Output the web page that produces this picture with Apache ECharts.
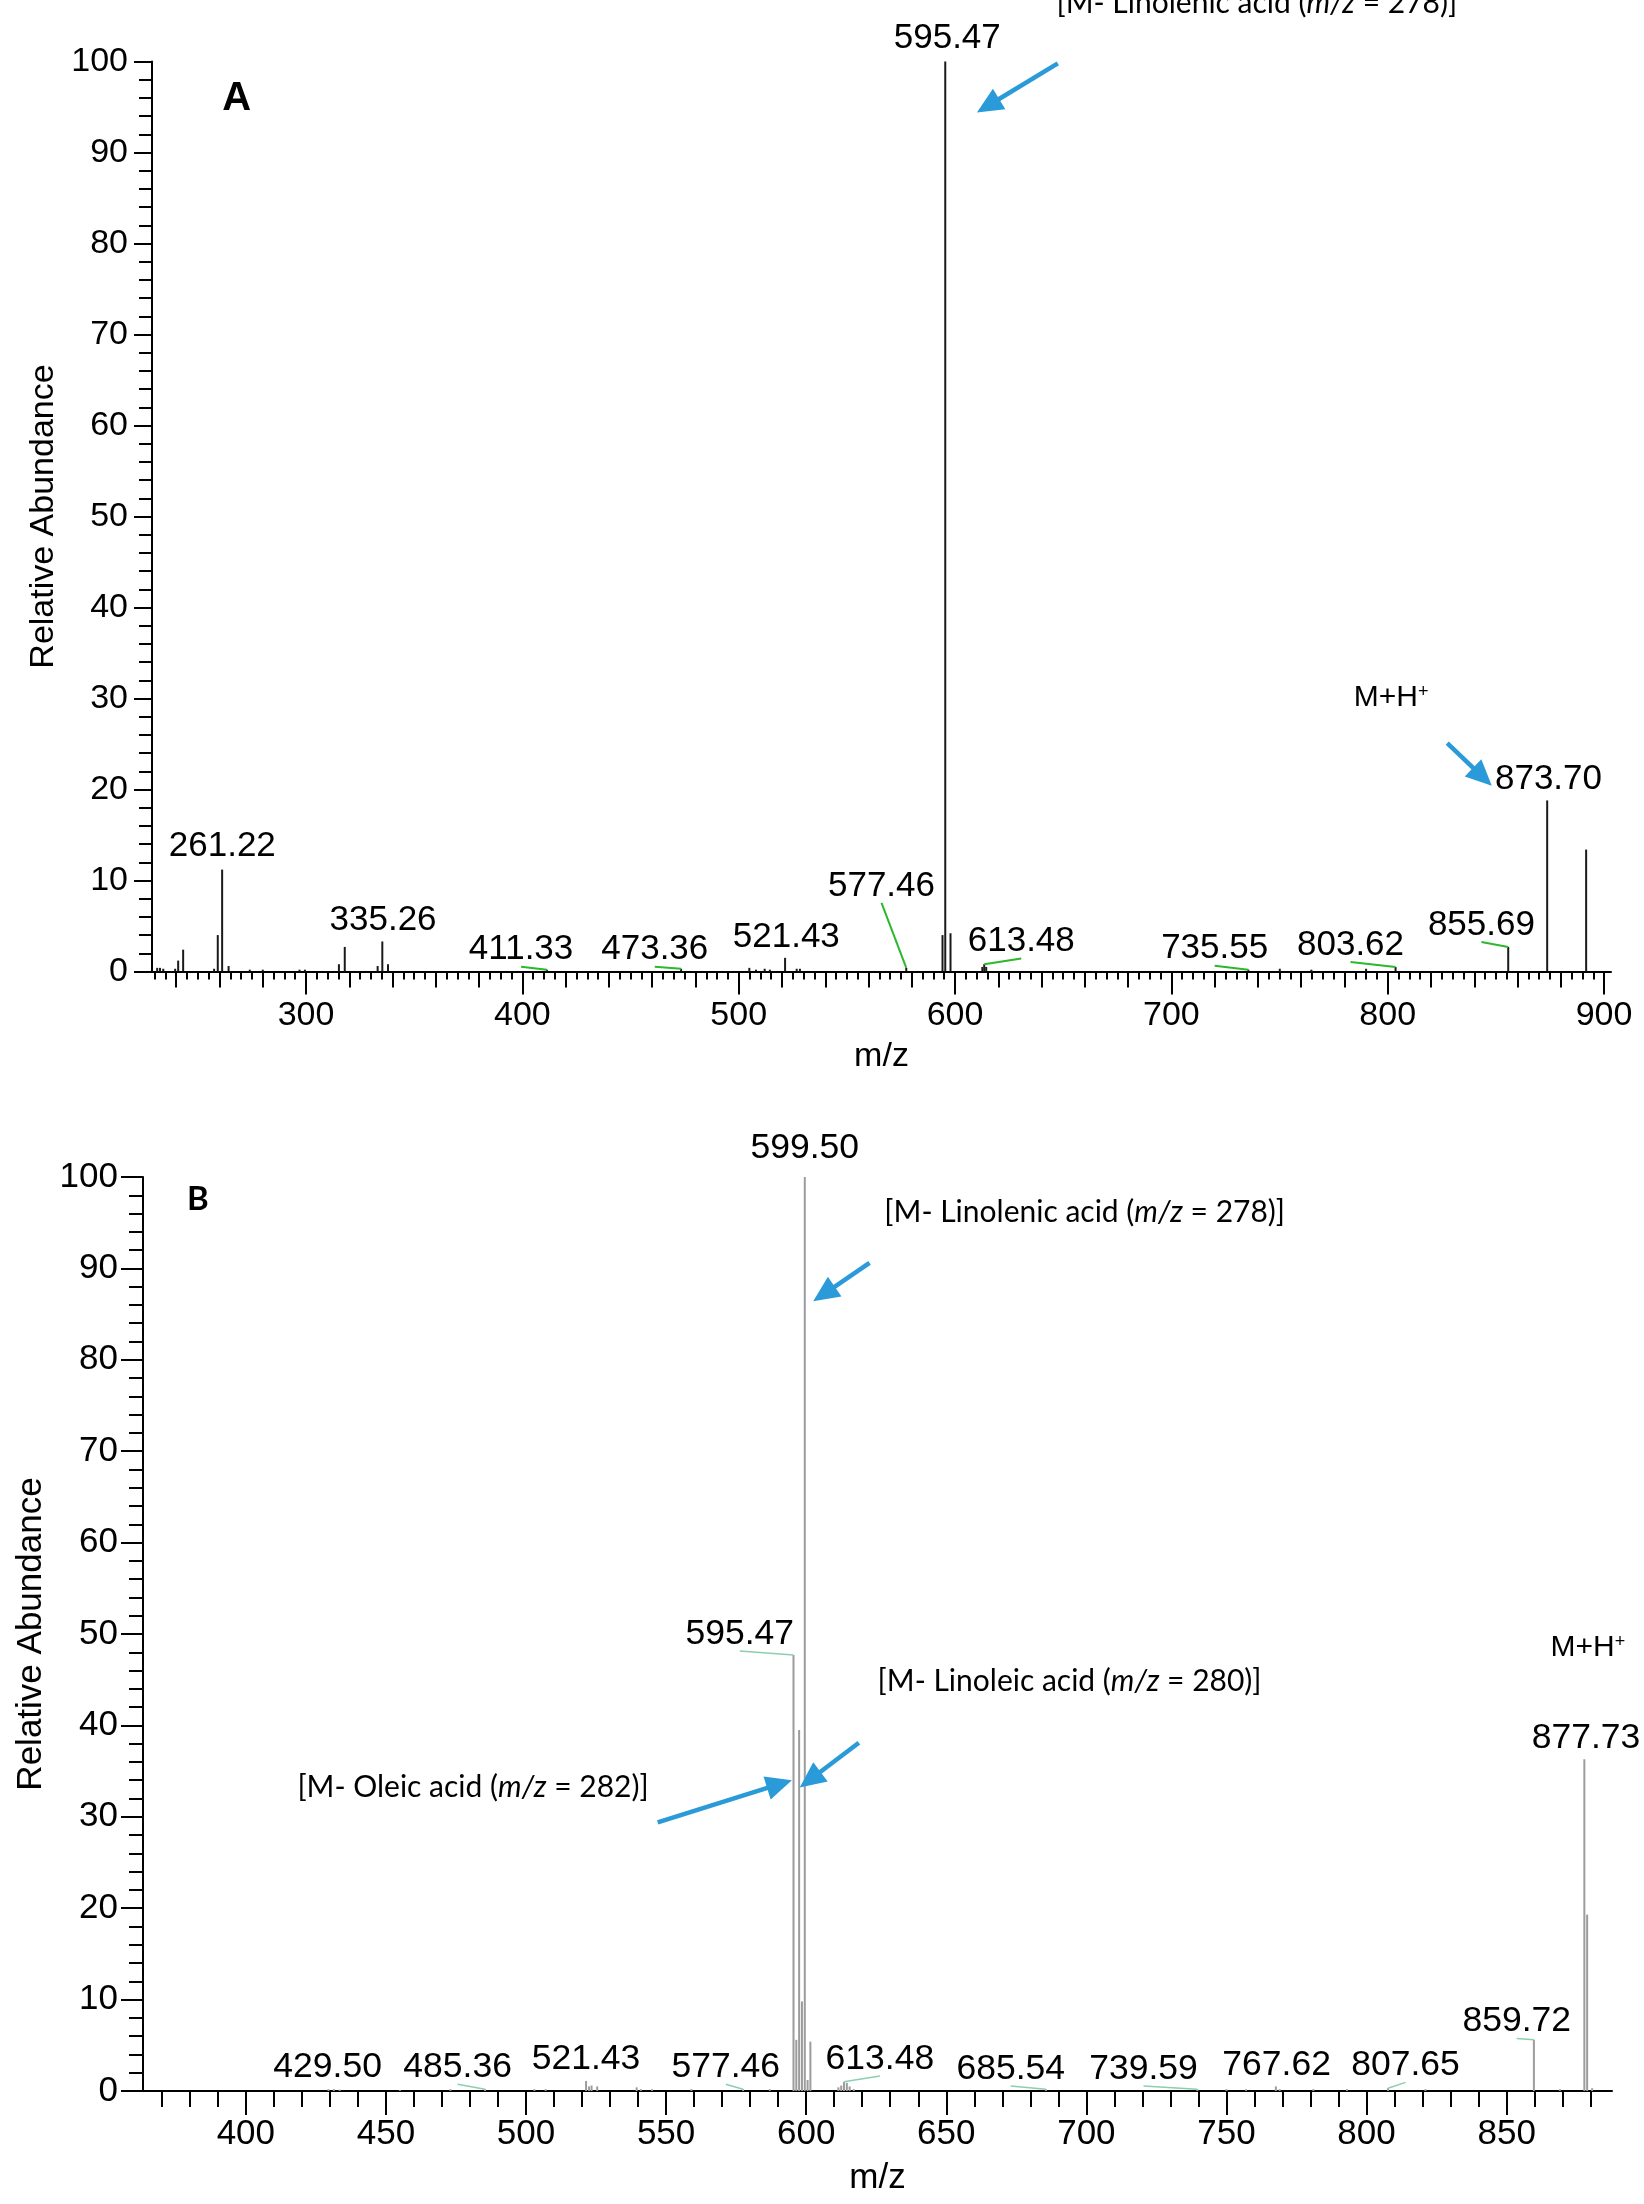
<!DOCTYPE html>
<html>
<head>
<meta charset="utf-8">
<title>MS/MS spectra A and B</title>
<script src="https://cdn.jsdelivr.net/npm/echarts@6/dist/echarts.min.js"></script>
<style>
  html, body { margin: 0; padding: 0; background: #fff; }
  #chart { width: 1644px; height: 2204px; }
</style>
</head>
<body>
<div id="chart"></div>
<script>
// ---------- panel A : sticks (m/z , relative abundance %) ----------
const mzA = [231.2, 232.5, 234.0, 239.5, 240.9, 243.2, 257.5, 259.2, 261.22, 264.2, 274.0, 280.0, 297.0, 299.5,
  315.2, 317.9, 333.1, 335.26, 337.9, 411.33, 473.36, 504.9, 508.0, 512.0, 514.4, 521.43, 526.8, 528.3,
  577.46, 594.2, 595.47, 597.9, 612.6, 613.48, 614.4, 735.55, 750.1, 764.7, 790.0, 803.62, 855.69, 873.70, 891.71]
const abA = [0.4, 0.4, 0.3, 0.3, 1.2, 2.4, 0.3, 4.0, 11.2, 0.6, 0.2, 0.2, 0.2, 0.2,
  0.8, 2.7, 0.6, 3.3, 0.8, 0.2, 0.3, 0.4, 0.2, 0.3, 0.2, 1.5, 0.3, 0.3,
  0.4, 4.0, 100, 4.2, 0.5, 0.8, 0.5, 0.2, 0.3, 0.2, 0.3, 0.5, 2.7, 18.8, 13.4]

// peak labels A : text, peak m/z, peak %, label m/z, label %, leader line (1/0)
const labelTextA = ['595.47', '261.22', '335.26', '411.33', '473.36', '521.43', '577.46', '613.48', '735.55', '803.62', '855.69', '873.70']
const labelPeakMzA = [595.47, 261.22, 335.26, 411.33, 473.36, 521.43, 577.46, 613.48, 735.55, 803.62, 855.69, 873.70]
const labelPeakAbA = [100, 11.2, 3.3, 0.2, 0.3, 1.5, 0.4, 0.8, 0.2, 0.5, 2.7, 18.8]
const labelAtMzA = [596.4, 261.3, 335.6, 399.4, 461.2, 522.0, 566.0, 630.6, 720.0, 782.8, 843.3, 874.3]
const labelAtAbA = [102.5, 13.7, 5.6, 2.4, 2.4, 3.8, 9.4, 3.3, 2.5, 2.9, 5.1, 21.1]
const leaderA = [0, 0, 0, 1, 1, 0, 1, 1, 1, 1, 1, 0]

// ---------- panel B ----------
const mzB = [429.5, 431.4, 433.5, 455.0, 473.0, 485.36, 503.0, 507.0, 521.43, 522.5, 523.4, 525.4, 539.5, 541.0,
  545.0, 559.0, 577.46, 587.0, 595.47, 596.47, 597.48, 598.48, 599.50, 600.50, 601.50, 611.5, 612.5, 613.48,
  614.5, 615.5, 617.0, 685.54, 739.59, 750.0, 757.0, 767.62, 769.0, 781.0, 793.0, 807.65, 821.0, 859.72,
  869.0, 877.73, 878.73, 880.5]
const abB = [0.2, 0.2, 0.15, 0.1, 0.2, 0.2, 0.2, 0.2, 1.1, 0.5, 0.6, 0.5, 0.4, 0.2,
  0.2, 0.2, 0.2, 0.2, 47.7, 5.6, 39.5, 9.8, 100, 1.2, 5.4, 0.4, 0.6, 1.0,
  0.9, 0.5, 0.2, 0.2, 0.2, 0.2, 0.2, 0.5, 0.2, 0.2, 0.2, 0.3, 0.2, 5.6,
  0.2, 36.3, 19.3, 0.3]

const labelTextB = ['599.50', '595.47', '877.73', '859.72', '429.50', '485.36', '521.43', '577.46', '613.48', '685.54', '739.59', '767.62', '807.65']
const labelPeakMzB = [599.50, 595.47, 877.73, 859.72, 429.50, 485.36, 521.43, 577.46, 613.48, 685.54, 739.59, 767.62, 807.65]
const labelPeakAbB = [100, 47.7, 36.3, 5.6, 0.2, 0.2, 1.1, 0.2, 1.0, 0.2, 0.2, 0.5, 0.3]
const labelAtMzB = [599.5, 576.3, 878.3, 853.6, 429.2, 475.6, 521.4, 571.3, 626.3, 673.0, 720.4, 767.9, 813.9]
const labelAtAbB = [103.1, 50.0, 38.6, 7.6, 2.6, 2.6, 3.5, 2.6, 3.5, 2.4, 2.4, 2.8, 2.8]
const leaderB = [0, 1, 0, 1, 0, 1, 0, 1, 1, 1, 1, 0, 1]

// ---------- axis ticks ----------
const majorTicksA = [300, 400, 500, 600, 700, 800, 900]
const majorTicksB = [400, 450, 500, 550, 600, 650, 700, 750, 800, 850]
function steps(from, to, step) {
  const out = []
  for (let v = from; v <= to + 1e-9; v += step) out.push(v)
  return out
}
const midTicksA = steps(240, 900, 20)
const minorTicksA = steps(230, 900, 5)
const minorTicksB = steps(370, 880, 10)

// ---------- free annotations (m/z , %) ----------
const noteTextA = ['{c|[M- Linolenic acid (}{ci|m/z}{c| = 278)]}', '{bA|A}', '{a|M+H}{s|+}']
const noteAtA = [[739.5, 106.4], [267.9, 95.9], [801.6, 30.1]]
const noteTextB = ['{bB|B}', '{c|[M- Linolenic acid (}{ci|m/z}{c| = 278)]}', '{c|[M- Linoleic acid (}{ci|m/z}{c| = 280)]}',
  '{c|[M- Oleic acid (}{ci|m/z}{c| = 282)]}', '{a|M+H}{s|+}']
const noteAtB = [[382.9, 97.6], [699.4, 96.1], [694.0, 44.8], [481.1, 33.2], [879.0, 48.5]]

// arrows: from (m/z, %) to (m/z, %)
const arrowsA = [[647.5, 99.8, 610.1, 94.4], [827.5, 25.1, 848.1, 20.4]]
const arrowsB = [[622.6, 90.6, 602.5, 86.4], [618.8, 38.1, 597.7, 33.2], [547.0, 29.4, 594.9, 34.0]]

const NUM = '"Liberation Sans", Arial, sans-serif'
const CAL = 'Lato, "Noto Sans", sans-serif'
const BLUE = '#2a9ad8'

const richStyles = {
  c: { fontFamily: CAL, fontSize: 30, color: '#000' },
  ci: { fontFamily: CAL, fontSize: 30, fontStyle: 'italic', color: '#000' },
  a: { fontFamily: NUM, fontSize: 30, color: '#000' },
  s: { fontFamily: NUM, fontSize: 18, color: '#000', verticalAlign: 'top' },
  bA: { fontFamily: NUM, fontSize: 40, fontWeight: 'bold', color: '#000' },
  bB: { fontFamily: CAL, fontSize: 33, fontWeight: 'bold', color: '#000' }
}

const stickItem = (color, width) => (params, api) => {
  const top = api.coord([api.value(0), api.value(1)])
  const base = api.coord([api.value(0), 0])
  return { type: 'line', shape: { x1: top[0], y1: top[1], x2: base[0], y2: base[1] },
    style: { stroke: color, lineWidth: width } }
}

const peakLabelItem = (texts, fontSize, leadColor, leadWidth) => (params, api) => {
  const p = api.coord([api.value(0), api.value(1)])
  const children = [{ type: 'text', x: p[0], y: p[1],
    style: { text: texts[params.dataIndex], fontFamily: NUM, fontSize: fontSize, fill: '#000', align: 'center', verticalAlign: 'middle' } }]
  if (api.value(4)) {
    const pk = api.coord([api.value(2), api.value(3)])
    children.push({ type: 'line', shape: { x1: p[0], y1: p[1] + 17, x2: pk[0], y2: pk[1] },
      style: { stroke: leadColor, lineWidth: leadWidth } })
  }
  return { type: 'group', children: children }
}

const noteItem = texts => (params, api) => {
  const p = api.coord([api.value(0), api.value(1)])
  return { type: 'text', x: p[0], y: p[1],
    style: { text: texts[params.dataIndex], rich: richStyles, align: 'center', verticalAlign: 'middle' } }
}

const arrowItem = (params, api) => {
  const a = api.coord([api.value(0), api.value(1)])
  const b = api.coord([api.value(2), api.value(3)])
  const dx = b[0] - a[0], dy = b[1] - a[1]
  const len = Math.sqrt(dx * dx + dy * dy)
  const ux = dx / len, uy = dy / len
  const headL = 26, headW = 12
  const bx = b[0] - ux * headL, by = b[1] - uy * headL
  return { type: 'group', children: [
    { type: 'line', shape: { x1: a[0], y1: a[1], x2: bx + ux * 2, y2: by + uy * 2 }, style: { stroke: BLUE, lineWidth: 4.5 } },
    { type: 'polygon', shape: { points: [[b[0], b[1]], [bx - uy * headW, by + ux * headW], [bx + uy * headW, by - ux * headW]] },
      style: { fill: BLUE } }
  ] }
}

const zip = (a, b) => a.map((v, i) => [v, b[i]])
const labelRows = (mz, ab, pmz, pab, lead) => mz.map((v, i) => [v, ab[i], pmz[i], pab[i], lead[i]])

function xAxes(grid, min, max, ticks, font, big, margin, gap, extra) {
  const black = w => ({ color: '#000', width: w })
  const list = [{
    gridIndex: grid, type: 'value', position: 'bottom', min: min, max: max,
    axisLine: { show: true, onZero: false, lineStyle: black(2) },
    axisTick: { show: true, customValues: ticks, length: big, lineStyle: black(2) },
    axisLabel: { customValues: ticks, margin: margin, fontSize: font, fontFamily: NUM, color: '#000' },
    splitLine: { show: false },
    name: 'm/z', nameLocation: 'middle', nameGap: gap,
    nameTextStyle: { fontSize: font, fontFamily: NUM, color: '#000' }
  }]
  extra.forEach(e => list.push({
    gridIndex: grid, type: 'value', position: 'bottom', min: min, max: max,
    axisLine: { show: false }, axisLabel: { show: false }, splitLine: { show: false },
    axisTick: { show: true, customValues: e.values, length: e.length, lineStyle: black(2) }
  }))
  return list
}

function yAxis(grid, font, nameFont, big, small, margin, gap) {
  return {
    gridIndex: grid, type: 'value', min: 0, max: 100, interval: 10,
    axisLine: { show: true, onZero: false, lineStyle: { color: '#000', width: 2 } },
    axisTick: { show: true, length: big, lineStyle: { color: '#000', width: 2 } },
    minorTick: { show: true, splitNumber: 5, length: small, lineStyle: { color: '#000', width: 2 } },
    axisLabel: { margin: margin, fontSize: font, fontFamily: NUM, color: '#000' },
    splitLine: { show: false },
    name: 'Relative Abundance', nameLocation: 'middle', nameGap: gap,
    nameTextStyle: { fontSize: nameFont, fontFamily: NUM, color: '#000' }
  }
}

const axA = xAxes(0, 228.8, 903.2, majorTicksA, 34, 23, 27, 68,
  [{ values: midTicksA, length: 16 }, { values: minorTicksA, length: 8 }])
const axB = xAxes(1, 363.3, 887.6, majorTicksB, 35, 24, 26, 70,
  [{ values: minorTicksB, length: 16 }])
const idxB = axA.length

const chart = echarts.init(document.getElementById('chart'), null, { renderer: 'canvas' })
chart.setOption({
  backgroundColor: '#fff',
  animation: false,
  grid: [
    { left: 152, top: 61.5, width: 1459, height: 910, containLabel: false, outerBoundsMode: 'none' },
    { left: 143, top: 1177, width: 1469, height: 914, containLabel: false, outerBoundsMode: 'none' }
  ],
  xAxis: axA.concat(axB),
  yAxis: [yAxis(0, 34, 34, 18, 13, 24, 88), yAxis(1, 35, 35, 22, 14, 25, 85)],
  series: [
    { type: 'custom', name: 'A', xAxisIndex: 0, yAxisIndex: 0, renderItem: stickItem('#1a1a1a', 2), data: zip(mzA, abA), z: 2 },
    { type: 'custom', name: 'A labels', xAxisIndex: 0, yAxisIndex: 0, renderItem: peakLabelItem(labelTextA, 35, '#2cb82c', 2),
      data: labelRows(labelAtMzA, labelAtAbA, labelPeakMzA, labelPeakAbA, leaderA), z: 3 },
    { type: 'custom', name: 'A notes', xAxisIndex: 0, yAxisIndex: 0, renderItem: noteItem(noteTextA), data: noteAtA, z: 3 },
    { type: 'custom', name: 'A arrows', xAxisIndex: 0, yAxisIndex: 0, renderItem: arrowItem, data: arrowsA, z: 4 },

    { type: 'custom', name: 'B', xAxisIndex: idxB, yAxisIndex: 1, renderItem: stickItem('#9c9c9c', 2), data: zip(mzB, abB), z: 2 },
    { type: 'custom', name: 'B labels', xAxisIndex: idxB, yAxisIndex: 1, renderItem: peakLabelItem(labelTextB, 35.5, '#8ccfae', 1.5),
      data: labelRows(labelAtMzB, labelAtAbB, labelPeakMzB, labelPeakAbB, leaderB), z: 3 },
    { type: 'custom', name: 'B notes', xAxisIndex: idxB, yAxisIndex: 1, renderItem: noteItem(noteTextB), data: noteAtB, z: 3 },
    { type: 'custom', name: 'B arrows', xAxisIndex: idxB, yAxisIndex: 1, renderItem: arrowItem, data: arrowsB, z: 4 }
  ]
})
</script>
</body>
</html>
